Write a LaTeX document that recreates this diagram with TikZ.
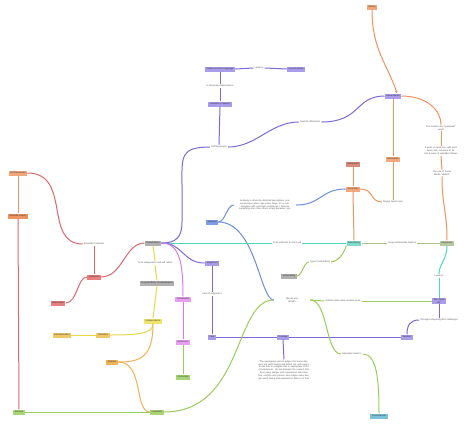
\documentclass[tikz,border=0pt]{standalone}
\usepackage{fontspec}
\setmainfont{Liberation Sans}
\usetikzlibrary{arrows.meta}
\definecolor{cPur}{HTML}{7B6BD9}
\definecolor{cPurF}{HTML}{A99CEB}
\definecolor{cOr}{HTML}{EE9460}
\definecolor{cOrF}{HTML}{F4A77A}
\definecolor{cRed}{HTML}{DC6870}
\definecolor{cRedF}{HTML}{E87F7F}
\definecolor{cGrayF}{HTML}{B0B0B0}
\definecolor{cTeal}{HTML}{4ED6BE}
\definecolor{cTealF}{HTML}{7DDCCB}
\definecolor{cYel}{HTML}{E6D84A}
\definecolor{cYelF}{HTML}{F2E46A}
\definecolor{cYO}{HTML}{F0C868}
\definecolor{cAmb}{HTML}{F0B25A}
\definecolor{cGrn}{HTML}{9ACD5C}
\definecolor{cGrnF}{HTML}{A8D676}
\definecolor{cMag}{HTML}{D77BE6}
\definecolor{cMagF}{HTML}{E6A0EE}
\definecolor{cBlu}{HTML}{6F8FDD}
\definecolor{cBluF}{HTML}{7F9CE6}
\definecolor{cBrn}{HTML}{D98B7C}
\definecolor{cCon}{HTML}{7CC0DC}
\definecolor{cHap}{HTML}{B9C8A0}
\definecolor{cLiv}{HTML}{A8BF8A}
\definecolor{cTxt}{HTML}{555555}
\tikzset{
  box/.style={rectangle, inner xsep=1.5pt, inner ysep=0.9pt, minimum height=5pt,
    font=\fontsize{2.3}{2.8}\selectfont, text=black!80, align=center},
  lbl/.style={inner sep=1pt, font=\fontsize{2.3}{2.8}\selectfont, text=cTxt, align=center},
  para/.style={lbl, text width=#1},
  ln/.style={line width=1pt}
}
\begin{document}
\begin{tikzpicture}[x=1pt,y=-1pt]
\useasboundingbox[fill=white] (0,0) rectangle (474,424);
% ---------- nodes ----------
\node[box,fill=cPurF] (pcl) at (220,69) {Political Correct Language};
\node[lbl] (leads1) at (259,68) {Leads to};
\node[box,fill=cPurF] (cancel) at (296,69) {Cancel culture};
\node[lbl] (detr) at (220,86) {is inherently detrimental to};
\node[box,fill=cPurF] (fos) at (220,104) {Freedom of Speech};
\node[lbl] (selfexp) at (219,147) {Self Expression};
\node[lbl] (need) at (310,122) {Need for affirmation};
\node[box,fill=cPurF] (social) at (393,96) {Social Media};
\node[box,fill=cOrF] (money) at (372,7) {Money};
\node[lbl] (needs) at (441,128) {The modern day ``hypebeast''\\needs};
\node[para=48pt] (quick) at (441,151) {It gives us quick fixs, with each tweet, like, comment or follow, a wave of validation follows};
\node[para=30pt] (addicts) at (442,173) {The rise of Social Media ``addicts''};
\node[box,fill=cOrF] (narc) at (393,159) {Narcissism};
\node[lbl] (always) at (393,202) {Always wants more};
\node[box,fill=cBrn] (selfish) at (353,164) {Selfishness};
\node[box,fill=cOrF] (ego) at (353,189) {Social Ego};
\node[para=60pt] (jpar) at (265,205) {Jealousy is driven by distorted perceptions, possessiveness where ego looms large. It's a commonplace with narcissist undertones, I deserve something more than others simply because I am.};
\node[box,fill=cBluF] (jeal) at (212,222) {Jealousy};
\node[box,fill=cGrayF] (ind) at (153,243) {Individualism};
\node[lbl] (authlbl) at (287,243) {To be authentic to one's self};
\node[box,fill=cTealF] (auth) at (354,243) {Authenticity};
\node[lbl] (livlbl) at (402,243) {Living authentically leads to};
\node[box,fill=cHap] (happy) at (447,243) {Happiness};
\node[lbl] (leads2) at (439,276) {Leads to};
\node[box,fill=cPurF] (good) at (439,301) {The ``Good\\Life''};
\node[lbl] (thru) at (439,320) {Through conquering life's challenges};
\node[box,fill=cPurF] (wis) at (407,337) {Wisdom};
\node[box,fill=cPurF] (courage) at (283,337) {Courage};
\node[box,fill=cPurF] (fear) at (212,337) {Fear};
\node[para=58pt] (cpar) at (284,370) {The courageous person judges that some dangers are worth facing and others not, and experiences fear to a degree that is appropriate to the circumstances. He lies between the coward, who flees every danger and experiences excessive fear, and the rash person, who judges every danger worth facing and experiences little or no fear.};
\node[box,fill=cPurF] (judg) at (212,263) {Judgement};
\node[lbl] (fearlbl) at (212,294) {Fear of Judgement};
\node[lbl, minimum width=36pt] (mw) at (292,300) {Money and\\Wealth};
\node[lbl] (deflbl) at (343,301) {Defines what some consider to be};
\node[lbl] (aber) at (352,354) {Aberration leads to};
\node[box,fill=cCon] (cons) at (379,416) {Consumerism};
\node[lbl] (typ) at (320,262) {Type of authenticity};
\node[box,fill=cGrayF] (vul) at (289,276) {Vulnerability};
\node[box,fill=cMagF] (coll) at (183,299) {Collectivism};
\node[box,fill=cMagF] (ext) at (183,342) {Extremism};
\node[box,fill=cGrnF] (conf) at (183,377) {Conformity};
\node[box,fill=cOrF] (so) at (18,173) {Self-obsession};
\node[box,fill=cOr] (sci2) at (18,216) {Scientific Inquiry};
\node[lbl] (splbl) at (94,244) {Scientific Positivism};
\node[box,fill=cRedF] (hed) at (94,277) {Hedonism};
\node[box,fill=cRedF] (mat) at (58,303) {Materialism};
\node[box,fill=cGrnF] (surv) at (19,412) {Survival};
\node[lbl] (rel) at (155,263) {To be independent and self reliant};
\node[box,fill=cGrayF] (prod) at (157,283) {Product/effects of individualism};
\node[box,fill=cYelF] (indep) at (153,321) {Independence};
\node[box,fill=cYO] (lib) at (103,335) {Liberation};
\node[box,fill=cYO] (dec) at (62,335) {Decolonisation};
\node[box,fill=cAmb] (amb) at (112,362) {Ambition};
\node[box,fill=cGrnF] (cap) at (157,412) {Capitalism};
% ---------- connectors ----------
\begin{scope}[ln]
% purple top
\draw[cPur] (pcl.east) -- (leads1.west);
\draw[cPur] (leads1.east) -- (cancel.west);
\draw[cPur] (pcl.south) -- (detr.north);
\draw[cPur] (detr.south) -- (fos.north);
\draw[cPur] (fos.south) -- (selfexp.north);
\draw[cPur] (selfexp.east) .. controls +(28,0) and +(-28,0) .. (need.west);
\draw[cPur] (need.east) .. controls +(40,0) and +(-30,0) .. (social.west);
\draw[cPur] (selfexp.west) .. controls +(-30,0) and +(0,-28) .. (182,185) -- (182,222) .. controls +(0,16) and +(14,0) .. (ind.east);
% orange social
\draw[cOr,-{Stealth[length=3pt,width=3pt]}] (money.south) .. controls +(0,40) and +(-10,-30) .. ([xshift=4pt]social.north);
\draw[cOr] (social.east) .. controls +(26,0) and +(0,-14) .. (needs.north);
\draw[cOr] (needs.south) -- (quick.north);
\draw[cOr] (quick.south) -- (addicts.north);
\draw[cOr] (addicts.south) .. controls +(0,30) and +(0,-30) .. (happy.north);
\draw[cOr] (social.south) -- (narc.north);
\draw[cOr] (narc.south) -- (always.north);
\draw[cOr] (selfish.south) -- (ego.north);
\draw[cOr] (ego.south) -- (auth.north);
\draw[cOr] (ego.east) .. controls +(14,0) and +(-12,0) .. (always.west);
% blue jealousy
\draw[cBlu] (ego.west) .. controls +(-25,0) and +(25,0) .. (jpar.east);
\draw[cBlu] (jpar.west) .. controls +(-7,0) and +(7,0) .. (jeal.east);
\draw[cBlu] (jeal.east) .. controls +(38,0) and +(-14,0) .. (mw.west);
% teal
\draw[cTeal] (ind.east) -- (authlbl.west);
\draw[cTeal] (authlbl.east) -- (auth.west);
\draw[cLiv] (auth.east) -- (livlbl.west);
\draw[cLiv] (livlbl.east) -- (happy.west);
\draw[cTeal] (happy.south) .. controls +(0,14) and +(0,-10) .. (leads2.north);
\draw[cTeal] (leads2.south) -- (good.north);
% purple bottom right
\draw[cPur] (good.south) -- (thru.north);
\draw[cPur] (thru.west) .. controls +(-9,0) and +(0,-9) .. (wis.north);
\draw[cPur] (fear.east) -- (courage.west);
\draw[cPur] (courage.east) -- (wis.west);
\draw[cPur] (courage.south) -- (cpar.north);
\draw[cPur] (ind.east) .. controls +(22,0) and +(-22,0) .. (judg.west);
\draw[cPur] (judg.south) -- (fearlbl.north);
\draw[cPur] (fearlbl.south) -- (fear.north);
% magenta
\draw[cMag] (ind.east) .. controls +(18,0) and +(0,-34) .. (coll.north);
\draw[cMag] (coll.south) -- (ext.north);
\draw[cGrn] (ext.south) -- (conf.north);
% green
\draw[cGrn] (cap.east) .. controls +(80,0) and +(-40,0) .. (mw.west);
\draw[cGrn] (mw.east) -- (deflbl.west);
\draw[cGrn] (deflbl.east) -- (good.west);
\draw[cGrn] (mw.east) .. controls +(18,0) and +(-16,0) .. (aber.west);
\draw[cGrn] (aber.east) .. controls +(14,0) and +(0,-34) .. (cons.north);
\draw[cGrn] (auth.south west) .. controls +(-3,10) and +(5,0) .. (typ.east);
\draw[cGrn] (typ.west) .. controls +(-5,0) and +(5,0) .. (vul.east);
\draw[cGrn] (surv.east) -- (cap.west);
% left red/orange
\draw[cOr] (so.south) -- (sci2.north);
\draw[cRed] (sci2.south) -- (surv.north);
\draw[cRed] (so.east) .. controls +(45,0) and +(-40,0) .. (splbl.west);
\draw[cRed] (splbl.south) -- (hed.north);
\draw[cRed] (hed.east) .. controls +(22,0) and +(-20,0) .. (ind.west);
\draw[cRed] (mat.east) .. controls +(12,0) and +(-10,0) .. (hed.west);
% yellow
\draw[cYel] (ind.south) -- (rel.north);
\draw[cYel] (rel.south) -- (prod.north);
\draw[cYel] (prod.south) -- (indep.north);
\draw[cYel] (indep.south) .. controls +(0,10) and +(28,0) .. (lib.east);
\draw[cYel] (lib.west) -- (dec.east);
\draw[cAmb] (indep.south) .. controls +(0,34) and +(22,0) .. (amb.east);
\draw[cAmb] (amb.east) .. controls +(26,0) and +(-16,0) .. (cap.west);
\end{scope}
\end{tikzpicture}
\end{document}
